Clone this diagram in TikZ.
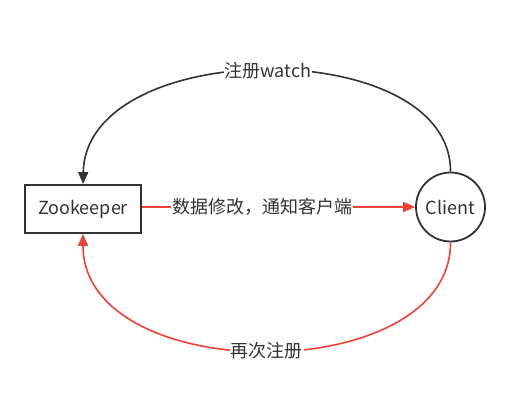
\documentclass[tikz,border=0pt]{standalone}
\usepackage{fontspec}
\setmainfont{Noto Sans CJK SC}
\usetikzlibrary{arrows.meta}
\definecolor{dark}{RGB}{51,51,51}
\definecolor{red}{RGB}{240,65,52}

\begin{document}
\begin{tikzpicture}[x=1pt,y=-1pt,font=\fontsize{18}{21}\selectfont,
	box/.style={draw=dark,line width=1.8pt,minimum width=116pt,minimum height=48pt,inner sep=0pt},
	round/.style={circle,draw=dark,line width=1.8pt,minimum size=69pt,inner sep=0pt},
	lbl/.style={fill=white,inner sep=1pt,text=dark},
	tip/.style={-{Triangle[length=12pt,width=10pt]},line width=1.6pt}]
	\useasboundingbox (0,0) rectangle (510,411);
	\node[box,text=dark] (zk) at (83,209) {Zookeeper};
	\node[round,text=dark] (client) at (450.5,207) {Client};

	\draw[tip,dark] (client.north) .. controls (451,34) and (86,36) .. node[lbl,pos=0.5] {注册watch} (zk.north);
	\draw[tip,red] (zk.east |- 0,207) -- node[lbl,pos=0.44] {数据修改，通知客户端} (client.west);
	\draw[tip,red] (client.south) .. controls (451,388) and (83,388) .. node[lbl,pos=0.5] {再次注册} (zk.south);
\end{tikzpicture}
\end{document}
